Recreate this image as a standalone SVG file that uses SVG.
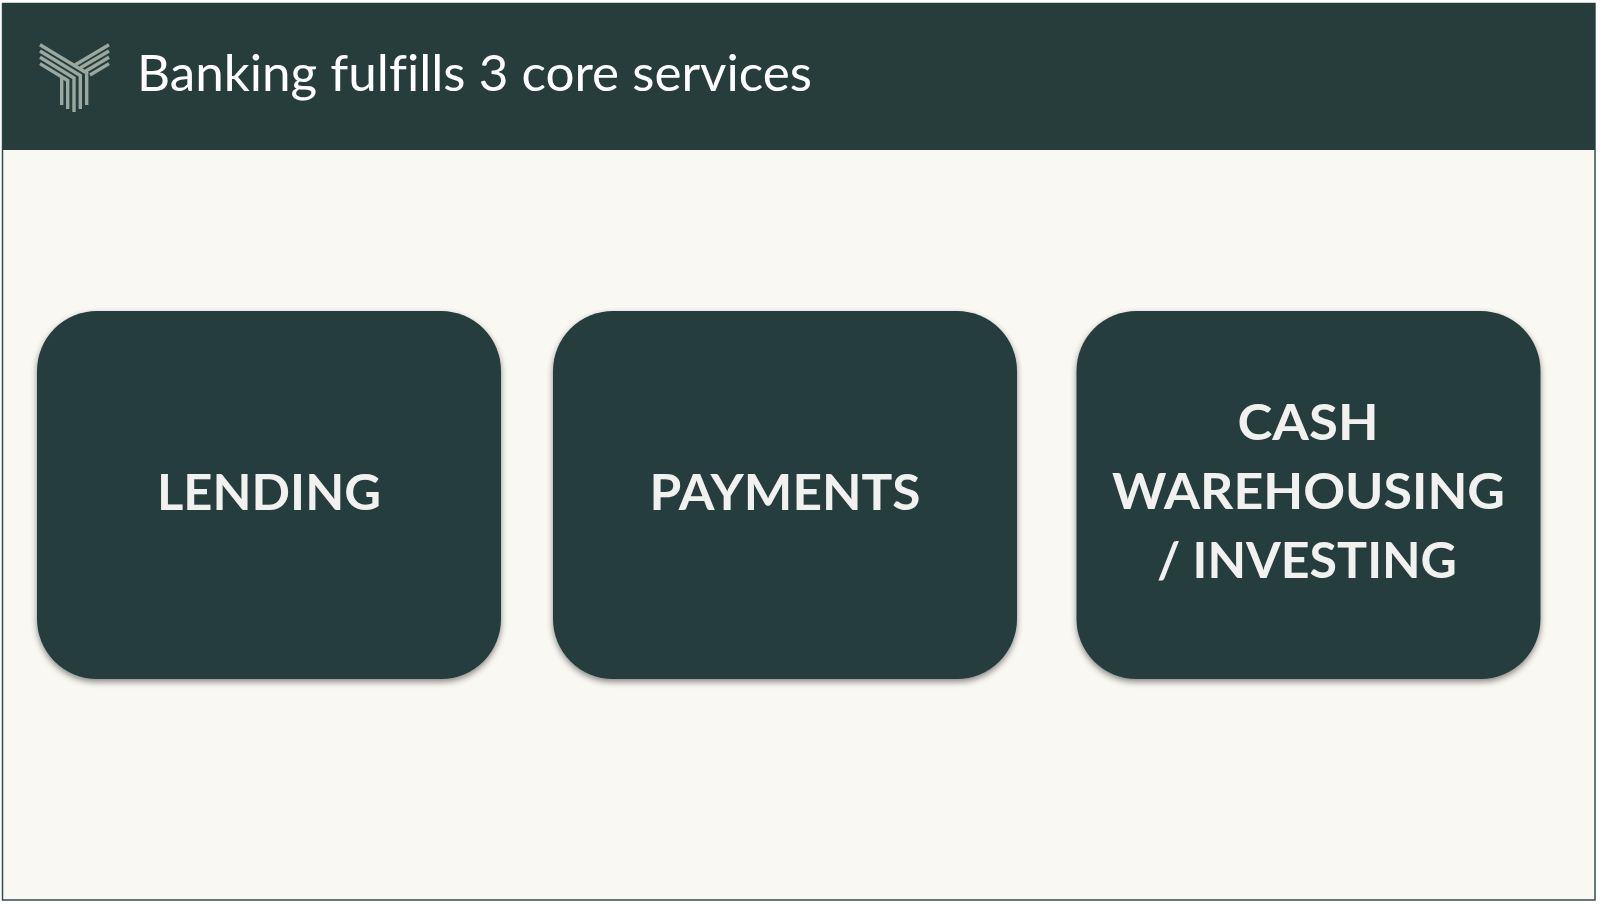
<svg xmlns="http://www.w3.org/2000/svg" width="1600" height="904" viewBox="0 0 1600 904">
<defs>
<filter id="sh" x="-5%" y="-5%" width="110%" height="112%"><feDropShadow dx="0" dy="3" stdDeviation="3" flood-color="#000" flood-opacity="0.45"/></filter>
</defs>
<style>
.box{fill:#263d3c;filter:url(#sh)}
.lbl{font-family:"Lato","Noto Sans",sans-serif;font-weight:700;font-size:50px;fill:#f1f1ef;text-anchor:middle;font-variant-ligatures:none}
.lg{fill:none;stroke:#9aa89f;stroke-width:3.400}
</style>
<rect x="0" y="0" width="1600" height="904" fill="#ffffff"/>
<rect x="2.500" y="3.500" width="1592.500" height="896.500" fill="#faf8f3" stroke="#2f4f4c" stroke-width="1.500"/>
<rect id="header" x="2.500" y="3" width="1592.500" height="147" fill="#263d3c"/>
<g id="logo" class="lg">
<path d="M40 44.700L86.700 73V105"/><path d="M40 51L80.300 75.500V109"/><path d="M40 57.300L74 78V112"/><path d="M40 63.600L67.700 80.500V109"/><path d="M61.700 77V105"/>
<path d="M109 44.700L75 65"/><path d="M109 51L80 68"/><path d="M109 57.300L85 71.500"/><path d="M109 63.600L90 75"/>
</g>
<text id="title" x="137" y="91" font-family="'Lato','Noto Sans',sans-serif" font-size="50" fill="#ffffff" textLength="675" lengthAdjust="spacingAndGlyphs" style="font-variant-ligatures:none">Banking fulfills 3 core services</text>
<g id="lending"><rect class="box" x="37" y="311" width="464" height="368" rx="60"/><text class="lbl" x="269" y="510" textLength="224" lengthAdjust="spacingAndGlyphs">LENDING</text></g>
<g id="payments"><rect class="box" x="553" y="311" width="464" height="368" rx="60"/><text class="lbl" x="785" y="510" textLength="271" lengthAdjust="spacingAndGlyphs">PAYMENTS</text></g>
<g id="cash"><rect class="box" x="1076.500" y="311" width="464" height="368" rx="60"/><text class="lbl" x="1308" y="440" textLength="141" lengthAdjust="spacingAndGlyphs">CASH</text><text class="lbl" x="1308.500" y="509" textLength="393" lengthAdjust="spacingAndGlyphs">WAREHOUSING</text><text class="lbl" x="1307" y="578" textLength="300" lengthAdjust="spacingAndGlyphs">/ INVESTING</text></g>
</svg>
